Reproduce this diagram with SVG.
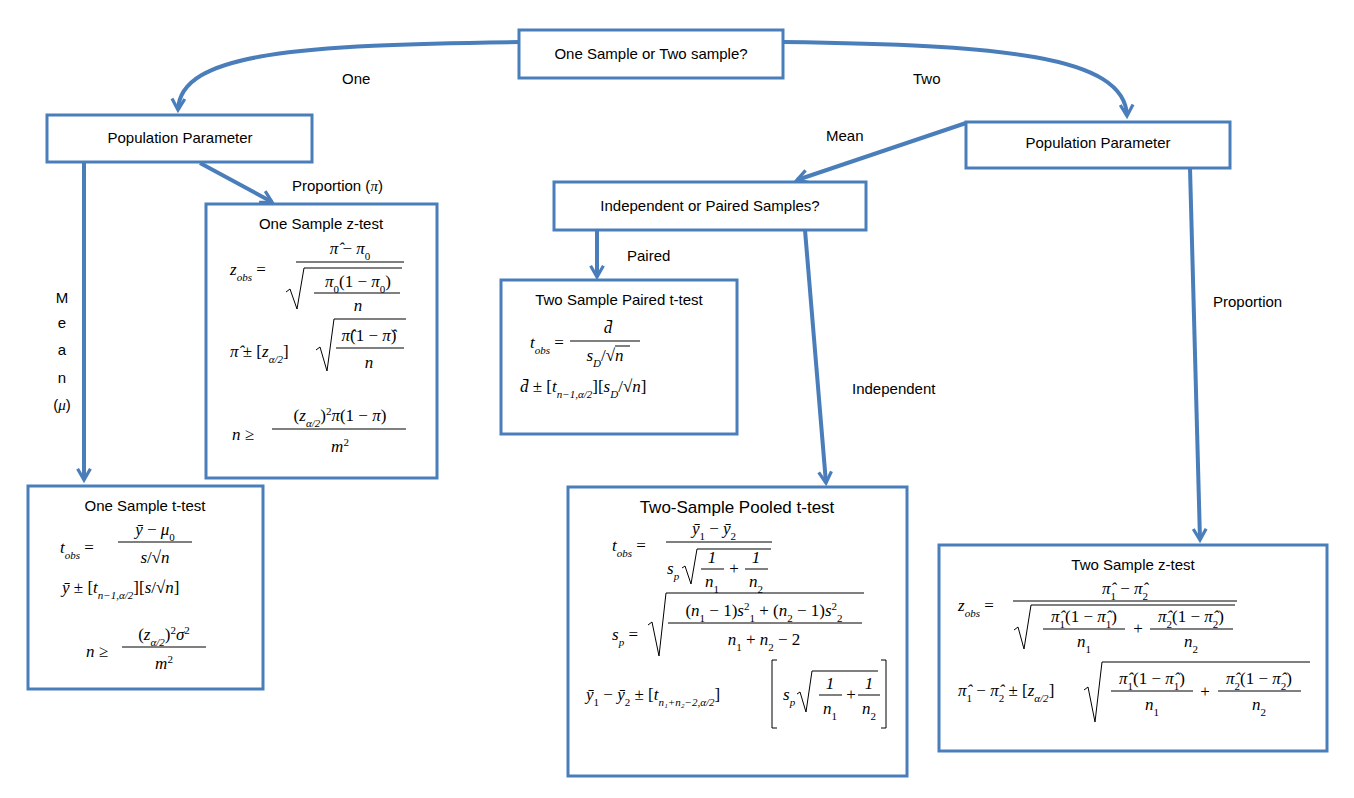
<svg xmlns="http://www.w3.org/2000/svg" width="1354" height="798" viewBox="0 0 1354 798">
<style>
.box{fill:#fff;stroke:#4a7ebb;stroke-width:3}
.t{font-family:"Liberation Sans",Arial,sans-serif;font-size:15px;fill:#000}
.m{font-family:"Liberation Serif","DejaVu Serif",serif;font-style:italic;font-size:17px;fill:#000}
.c{text-anchor:middle}
.r{font-style:normal}
.s{font-size:11px}
.ln{stroke:#000;stroke-width:1;fill:none}
.cn{stroke:#4a7ebb;stroke-width:4;fill:none;marker-end:url(#ah)}
</style>
<defs>
<marker id="ah" viewBox="0 0 10 10" refX="8" refY="5" markerWidth="4" markerHeight="4" orient="auto" markerUnits="strokeWidth">
<path d="M1,1 L8,5 L1,9" fill="none" stroke="#4a7ebb" stroke-width="2"/>
</marker>
</defs>
<rect width="1354" height="798" fill="#fff"/>
<g id="connectors">
<path class="cn" d="M519,42 C300,45 180,52 178,110"/>
<path class="cn" d="M783,42 C1000,45 1125,55 1127,116"/>
<path class="cn" d="M84,162 L84,480"/>
<path class="cn" d="M200,163 L272,202"/>
<path class="cn" d="M966,123 L797,180"/>
<path class="cn" d="M597,230 L597,277"/>
<path class="cn" d="M805,230 L826,483"/>
<path class="cn" d="M1190,168 L1200,540"/>
</g>
<g id="labels">
<text class="t" x="342" y="84">One</text>
<text class="t" x="913" y="84">Two</text>
<text class="t" x="292" y="191">Proportion (<tspan class="m" style="font-size:15px">π</tspan>)</text>
<text class="t c" x="62" y="303">M</text>
<text class="t c" x="62" y="328">e</text>
<text class="t c" x="62" y="355">a</text>
<text class="t c" x="62" y="383">n</text>
<text class="t c" x="62" y="410">(<tspan class="m" style="font-size:15px">μ</tspan>)</text>
<text class="t" x="826" y="141">Mean</text>
<text class="t" x="627" y="261">Paired</text>
<text class="t" x="852" y="394">Independent</text>
<text class="t" x="1213" y="307">Proportion</text>
</g>
<g id="n-top"><rect class="box" x="519" y="30" width="264" height="48"/><text class="t c" x="651" y="59">One Sample or Two sample?</text></g>
<g id="n-pop1"><rect class="box" x="47" y="115" width="265" height="47"/><text class="t c" x="180" y="143">Population Parameter</text></g>
<g id="n-pop2"><rect class="box" x="966" y="122" width="264" height="46"/><text class="t c" x="1098" y="148">Population Parameter</text></g>
<g id="n-indep"><rect class="box" x="554" y="182" width="312" height="48"/><text class="t c" x="710" y="211">Independent or Paired Samples?</text></g>
<g id="n-z1">
<rect class="box" x="206" y="204" width="231" height="274"/>
<text class="t c" x="321" y="229">One Sample z-test</text>
<text class="m" x="230" y="275">z<tspan class="s" baseline-shift="sub">obs</tspan><tspan class="r"> =</tspan></text>
<text class="m c" x="350" y="254">π̂ <tspan class="r">−</tspan> π<tspan class="s r" baseline-shift="sub">0</tspan></text>
<line class="ln" x1="296" y1="262" x2="404" y2="262"/>
<path class="ln" d="M286,292 l4,-3 l7,20 l7,-41 h98"/>
<text class="m c" x="358" y="287">π<tspan class="s r" baseline-shift="sub">0</tspan><tspan class="r">(1 − </tspan>π<tspan class="s r" baseline-shift="sub">0</tspan><tspan class="r">)</tspan></text>
<line class="ln" x1="314" y1="293" x2="400" y2="293"/>
<text class="m c" x="358" y="311">n</text>
<text class="m" x="230" y="357">π̂ <tspan class="r">± [</tspan>z<tspan class="s" baseline-shift="sub">α/2</tspan><tspan class="r">]</tspan></text>
<path class="ln" d="M316,350 l4,-3 l7,24 l7,-52 h72"/>
<text class="m c" x="369" y="341">π̂<tspan class="r">(1 − </tspan>π̂<tspan class="r">)</tspan></text>
<line class="ln" x1="336" y1="348" x2="404" y2="348"/>
<text class="m c" x="369" y="368">n</text>
<text class="m" x="232" y="440">n <tspan class="r">≥</tspan></text>
<text class="m c" x="340" y="421"><tspan class="r">(</tspan>z<tspan class="s" baseline-shift="sub">α/2</tspan><tspan class="r">)</tspan><tspan class="s r" baseline-shift="super">2</tspan>π<tspan class="r">(1 − </tspan>π<tspan class="r">)</tspan></text>
<line class="ln" x1="272" y1="429" x2="406" y2="429"/>
<text class="m c" x="340" y="452">m<tspan class="s r" baseline-shift="super">2</tspan></text>
</g>
<g id="n-paired">
<rect class="box" x="501" y="280" width="236" height="154"/>
<text class="t c" x="619" y="305">Two  Sample Paired t-test</text>
<text class="m" x="530" y="348">t<tspan class="s" baseline-shift="sub">obs</tspan><tspan class="r"> =</tspan></text>
<text class="m c" x="608" y="333">d̄</text>
<line class="ln" x1="570" y1="341" x2="640" y2="341"/>
<text class="m c" x="605" y="361">s<tspan class="s" baseline-shift="sub">D</tspan><tspan class="r">/√</tspan>n</text>
<line class="ln" x1="615" y1="346" x2="630" y2="346"/>
<text class="m" x="520" y="392">d̄ <tspan class="r">± [</tspan>t<tspan class="s" baseline-shift="sub">n−1,α/2</tspan><tspan class="r">][</tspan>s<tspan class="s" baseline-shift="sub">D</tspan><tspan class="r">/√</tspan>n<tspan class="r">]</tspan></text>
</g>
<g id="n-t1">
<rect class="box" x="28" y="486" width="235" height="203"/>
<text class="t c" x="145" y="511">One Sample t-test</text>
<text class="m" x="60" y="553">t<tspan class="s" baseline-shift="sub">obs</tspan><tspan class="r"> =</tspan></text>
<text class="m c" x="155" y="535">ȳ <tspan class="r">−</tspan> μ<tspan class="s r" baseline-shift="sub">0</tspan></text>
<line class="ln" x1="118" y1="542" x2="192" y2="542"/>
<text class="m c" x="155" y="563">s<tspan class="r">/√</tspan>n</text>
<text class="m" x="62" y="593">ȳ <tspan class="r">± [</tspan>t<tspan class="s" baseline-shift="sub">n−1,α/2</tspan><tspan class="r">][</tspan>s<tspan class="r">/√</tspan>n<tspan class="r">]</tspan></text>
<text class="m" x="86" y="657">n <tspan class="r">≥</tspan></text>
<text class="m c" x="164" y="640"><tspan class="r">(</tspan>z<tspan class="s" baseline-shift="sub">α/2</tspan><tspan class="r">)</tspan><tspan class="s r" baseline-shift="super">2</tspan>σ<tspan class="s r" baseline-shift="super">2</tspan></text>
<line class="ln" x1="122" y1="647" x2="206" y2="647"/>
<text class="m c" x="164" y="669">m<tspan class="s r" baseline-shift="super">2</tspan></text>
</g>
<g id="n-pooled">
<rect class="box" x="568" y="487" width="339" height="289"/>
<text class="t c" x="737" y="513" style="font-size:17px">Two-Sample Pooled t-test</text>
<text class="m" x="612" y="551">t<tspan class="s" baseline-shift="sub">obs</tspan><tspan class="r"> =</tspan></text>
<text class="m c" x="714" y="534">ȳ<tspan class="s r" baseline-shift="sub">1</tspan><tspan class="r"> − </tspan>ȳ<tspan class="s r" baseline-shift="sub">2</tspan></text>
<line class="ln" x1="666" y1="542" x2="772" y2="542"/>
<text class="m" x="667" y="574">s<tspan class="s" baseline-shift="sub">p</tspan></text>
<path class="ln" d="M682,568 l3,-2 l6,18 l6,-35 h74"/>
<text class="m c" x="712" y="563">1</text><line class="ln" x1="701" y1="569" x2="724" y2="569"/><text class="m c" x="712" y="587">n<tspan class="s r" baseline-shift="sub">1</tspan></text>
<text class="m c r" x="734" y="574">+</text>
<text class="m c" x="756" y="563">1</text><line class="ln" x1="745" y1="569" x2="768" y2="569"/><text class="m c" x="756" y="587">n<tspan class="s r" baseline-shift="sub">2</tspan></text>
<text class="m" x="612" y="640">s<tspan class="s" baseline-shift="sub">p</tspan><tspan class="r"> =</tspan></text>
<path class="ln" d="M648,625 l4,-3 l7,34 l7,-63 h198"/>
<text class="m c" x="764" y="616"><tspan class="r">(</tspan>n<tspan class="s r" baseline-shift="sub">1</tspan><tspan class="r"> − 1)</tspan>s<tspan class="s r" baseline-shift="super">2</tspan><tspan class="s r" baseline-shift="sub">1</tspan><tspan class="r"> + (</tspan>n<tspan class="s r" baseline-shift="sub">2</tspan><tspan class="r"> − 1)</tspan>s<tspan class="s r" baseline-shift="super">2</tspan><tspan class="s r" baseline-shift="sub">2</tspan></text>
<line class="ln" x1="668" y1="623" x2="862" y2="623"/>
<text class="m c" x="764" y="645">n<tspan class="s r" baseline-shift="sub">1</tspan><tspan class="r"> + </tspan>n<tspan class="s r" baseline-shift="sub">2</tspan><tspan class="r"> − 2</tspan></text>
<text class="m" x="586" y="700">ȳ<tspan class="s r" baseline-shift="sub">1</tspan><tspan class="r"> − </tspan>ȳ<tspan class="s r" baseline-shift="sub">2</tspan><tspan class="r"> ± [</tspan>t<tspan class="s" baseline-shift="sub">n₁+n₂−2,α/2</tspan><tspan class="r">]</tspan></text>
<path class="ln" d="M777,660 h-5 v68 h5 M881,660 h5 v68 h-5"/>
<text class="m" x="783" y="700">s<tspan class="s" baseline-shift="sub">p</tspan></text>
<path class="ln" d="M797,694 l3,-2 l6,20 l6,-41 h66"/>
<text class="m c" x="830" y="689">1</text><line class="ln" x1="819" y1="695" x2="842" y2="695"/><text class="m c" x="830" y="714">n<tspan class="s r" baseline-shift="sub">1</tspan></text>
<text class="m c r" x="851" y="700">+</text>
<text class="m c" x="869" y="689">1</text><line class="ln" x1="858" y1="695" x2="880" y2="695"/><text class="m c" x="869" y="714">n<tspan class="s r" baseline-shift="sub">2</tspan></text>
</g>
<g id="n-z2">
<rect class="box" x="939" y="545" width="388" height="206"/>
<text class="t c" x="1133" y="570">Two Sample z-test</text>
<text class="m" x="958" y="611">z<tspan class="s" baseline-shift="sub">obs</tspan><tspan class="r"> =</tspan></text>
<text class="m c" x="1125" y="594">π̂<tspan class="s r" baseline-shift="sub">1</tspan><tspan class="r"> − </tspan>π̂<tspan class="s r" baseline-shift="sub">2</tspan></text>
<line class="ln" x1="1013" y1="601" x2="1237" y2="601"/>
<path class="ln" d="M1014,630 l4,-3 l6,22 l7,-44 h204"/>
<text class="m c" x="1084" y="622">π̂<tspan class="s r" baseline-shift="sub">1</tspan><tspan class="r">(1 − </tspan>π̂<tspan class="s r" baseline-shift="sub">1</tspan><tspan class="r">)</tspan></text>
<line class="ln" x1="1043" y1="629" x2="1125" y2="629"/>
<text class="m c" x="1084" y="647">n<tspan class="s r" baseline-shift="sub">1</tspan></text>
<text class="m c r" x="1138" y="634">+</text>
<text class="m c" x="1191" y="622">π̂<tspan class="s r" baseline-shift="sub">2</tspan><tspan class="r">(1 − </tspan>π̂<tspan class="s r" baseline-shift="sub">2</tspan><tspan class="r">)</tspan></text>
<line class="ln" x1="1150" y1="629" x2="1233" y2="629"/>
<text class="m c" x="1191" y="647">n<tspan class="s r" baseline-shift="sub">2</tspan></text>
<text class="m" x="958" y="696">π̂<tspan class="s r" baseline-shift="sub">1</tspan><tspan class="r"> − </tspan>π̂<tspan class="s r" baseline-shift="sub">2</tspan><tspan class="r"> ± [</tspan>z<tspan class="s" baseline-shift="sub">α/2</tspan><tspan class="r">]</tspan></text>
<path class="ln" d="M1084,690 l4,-3 l7,35 l7,-60 h208"/>
<text class="m c" x="1152" y="684">π̂<tspan class="s r" baseline-shift="sub">1</tspan><tspan class="r">(1 − </tspan>π̂<tspan class="s r" baseline-shift="sub">1</tspan><tspan class="r">)</tspan></text>
<line class="ln" x1="1111" y1="691" x2="1193" y2="691"/>
<text class="m c" x="1152" y="710">n<tspan class="s r" baseline-shift="sub">1</tspan></text>
<text class="m c r" x="1205" y="697">+</text>
<text class="m c" x="1259" y="684">π̂<tspan class="s r" baseline-shift="sub">2</tspan><tspan class="r">(1 − </tspan>π̂<tspan class="s r" baseline-shift="sub">2</tspan><tspan class="r">)</tspan></text>
<line class="ln" x1="1218" y1="691" x2="1301" y2="691"/>
<text class="m c" x="1259" y="710">n<tspan class="s r" baseline-shift="sub">2</tspan></text>
</g>
</svg>
